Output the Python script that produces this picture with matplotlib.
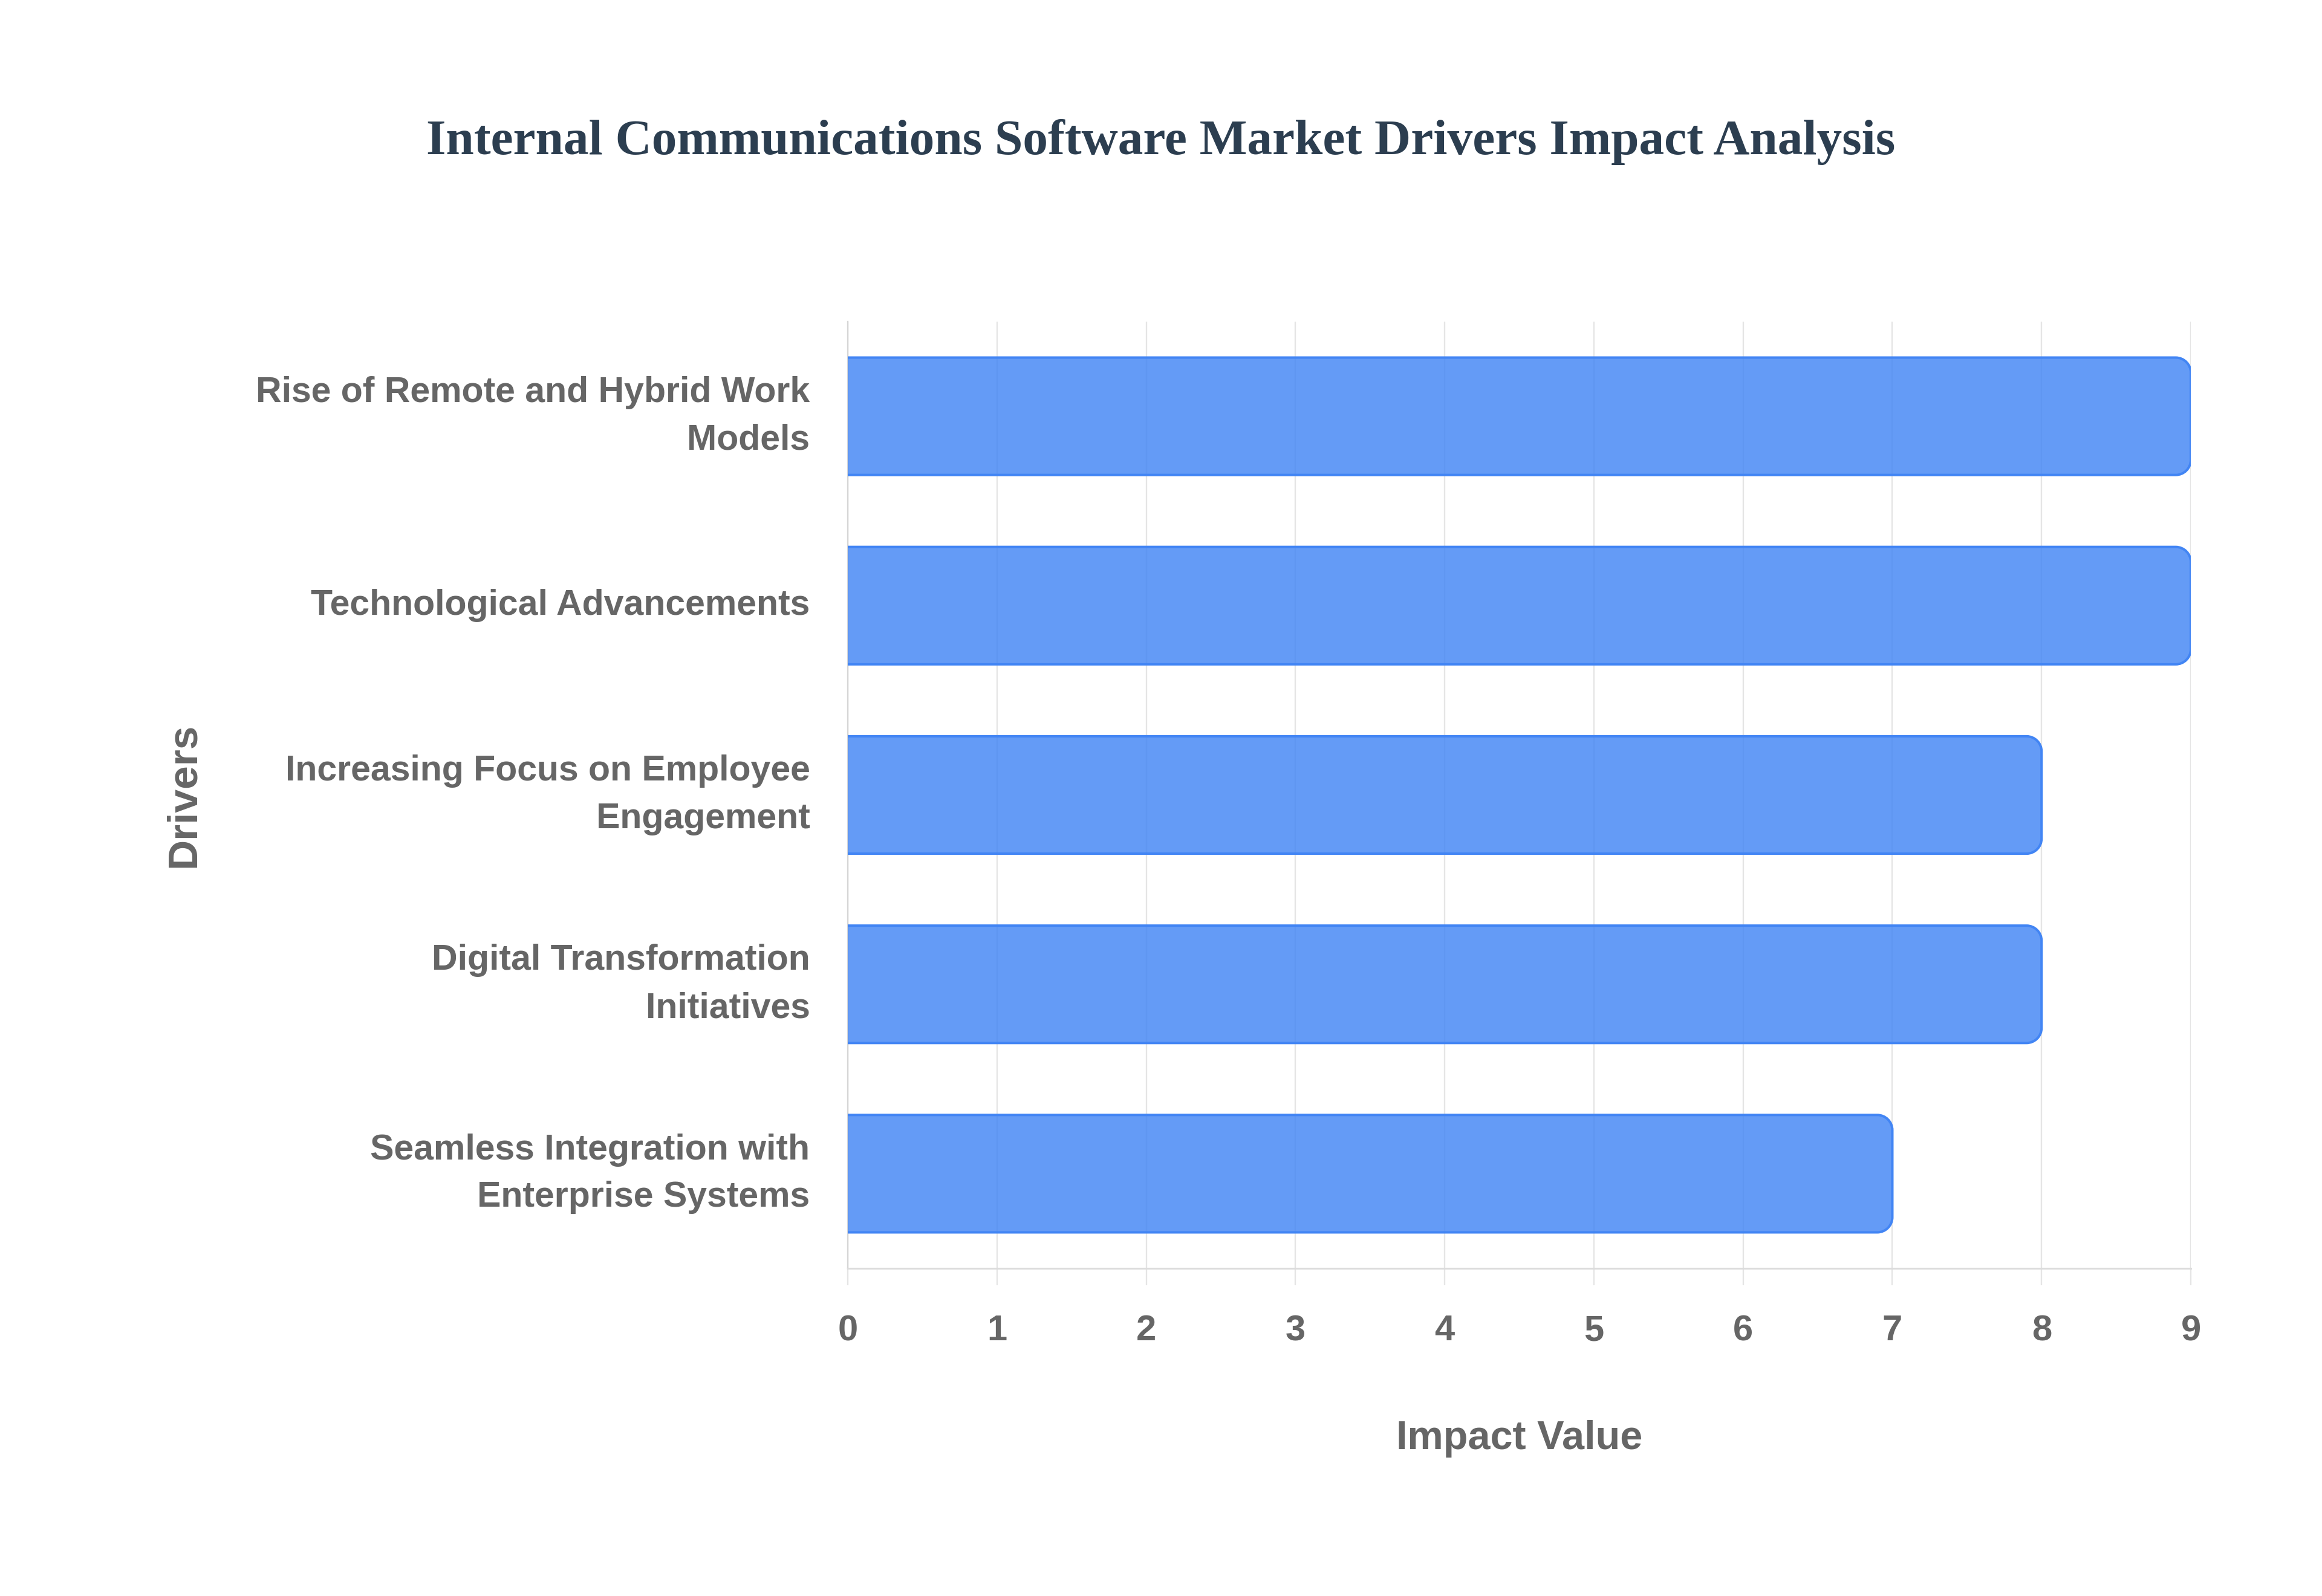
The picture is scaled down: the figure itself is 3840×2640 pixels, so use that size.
import numpy as np
import matplotlib.pyplot as plt
from matplotlib.path import Path
from matplotlib.patches import PathPatch

# chart data
drivers = [
    "Rise of Remote and Hybrid Work\nModels",
    "Technological Advancements",
    "Increasing Focus on Employee\nEngagement",
    "Digital Transformation\nInitiatives",
    "Seamless Integration with\nEnterprise Systems",
]
impact = [9, 9, 8, 8, 7]
x_ticks = [0, 1, 2, 3, 4, 5, 6, 7, 8, 9]

title = "Internal Communications Software Market Drivers Impact Analysis"
x_title = "Impact Value"
y_title = "Drivers"

text_grey = "#666666"
grid_grey = "#e5e5e5"
bar_fill = (66 / 255, 133 / 255, 244 / 255, 0.82)
bar_edge = "#4285F4"

plt.rcParams["font.family"] = ["Liberation Sans", "DejaVu Sans"]

fig = plt.figure(figsize=(38.4, 26.4), dpi=100)
ax = fig.add_axes([0.3651, 0.2053, 0.5784, 0.5932])

y_pos = np.arange(len(drivers))
ax.set_xlim(0, 9)
ax.set_ylim(len(drivers) - 0.5, -0.5)

# pixel -> data conversion for the rounded corners
fig.canvas.draw()
p0 = ax.transData.transform((0, 0))
p1 = ax.transData.transform((1, 1))
px_x = abs(p1[0] - p0[0])
px_y = abs(p1[1] - p0[1])
radius_px = 25
rx = radius_px / px_x
ry = radius_px / px_y

bar_h = 0.62
k = 0.5523  # bezier circle approximation
for y, v in zip(y_pos, impact):
    top = y - bar_h / 2
    bot = y + bar_h / 2
    verts = [
        (0, top),
        (v - rx, top),
        (v - rx + k * rx, top), (v, top + ry - k * ry), (v, top + ry),
        (v, bot - ry),
        (v, bot - ry + k * ry), (v - rx + k * rx, bot), (v - rx, bot),
        (0, bot),
    ]
    codes = [Path.MOVETO, Path.LINETO,
             Path.CURVE4, Path.CURVE4, Path.CURVE4,
             Path.LINETO,
             Path.CURVE4, Path.CURVE4, Path.CURVE4,
             Path.LINETO]
    fill = PathPatch(Path(verts + [(0, top)], codes + [Path.CLOSEPOLY]),
                     facecolor=bar_fill, edgecolor="none", zorder=3)
    ax.add_patch(fill)
    edge = PathPatch(Path(verts, codes), facecolor="none",
                     edgecolor=bar_edge, linewidth=2.9, zorder=4,
                     capstyle="butt", joinstyle="round")
    ax.add_patch(edge)

ax.set_yticks(y_pos)
ax.set_yticklabels(drivers, fontsize=42.5, fontweight="bold", color=text_grey,
                   multialignment="right", linespacing=1.55, va="center")
ax.set_xticks(x_ticks)
ax.set_xticklabels([str(t) for t in x_ticks], fontsize=43, fontweight="bold",
                   color=text_grey)
ax.tick_params(axis="y", length=0, pad=45)
ax.tick_params(axis="x", length=20, width=1.7, color=grid_grey, pad=35)

ax.grid(axis="x", color=grid_grey, linewidth=1.7, zorder=0)
ax.set_axisbelow(True)
for side in ["top", "right"]:
    ax.spines[side].set_visible(False)
ax.spines["bottom"].set_color("#dcdcdc")
ax.spines["bottom"].set_linewidth(2.2)
ax.spines["left"].set_color("#d6d6d6")
ax.spines["left"].set_linewidth(1.7)

ax.set_xlabel(x_title, fontsize=48, fontweight="bold", color=text_grey)
ax.xaxis.label.set_va("baseline")
ax.xaxis.set_label_coords(0.5, -0.1909)
ax.set_ylabel(y_title, fontsize=50, fontweight="bold", color=text_grey)
ax.yaxis.set_label_coords(-0.480, 0.5)

fig.text(0.5, 0.9034, title, ha="center", va="baseline", fontsize=60,
         fontweight="bold", color="#2c3e50",
         family=["Liberation Serif", "DejaVu Serif"])

fig.savefig("out.png", dpi=100, facecolor="white")
